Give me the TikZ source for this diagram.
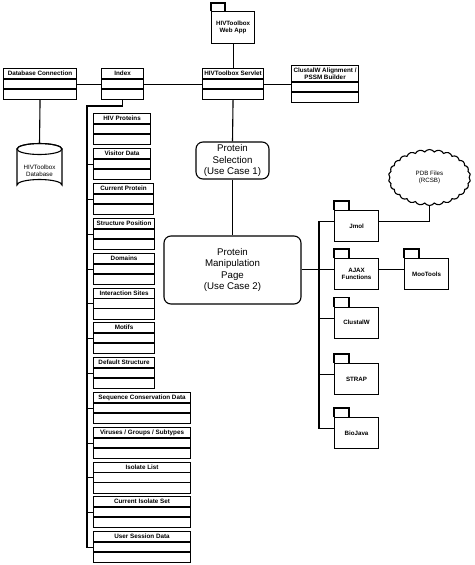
\documentclass[tikz,border=0pt]{standalone}
\usepackage{fontspec}
\setmainfont{Liberation Sans}
\usetikzlibrary{shapes.symbols,calc}
\tikzset{
  ln/.style={line width=1.1pt},
  clsbox/.style={draw, line width=1.1pt, minimum height=31pt, inner sep=0pt, fill=white},
  clstitle/.style={font=\bfseries\fontsize{6.3}{7.4}\selectfont, inner sep=0pt, align=center},
  pkgbody/.style={draw, line width=1.1pt, minimum width=44pt, minimum height=31pt, inner sep=0pt, align=center, font=\bfseries\fontsize{6.2}{7.4}\selectfont},
  rbox/.style={draw, line width=1.1pt, rounded corners=7pt, inner sep=0pt, align=center, font=\fontsize{9.7}{11.5}\selectfont},
  plain/.style={inner sep=0pt, align=center, font=\fontsize{6.2}{7.4}\selectfont},
}
\newcommand{\clsbx}[5]{%
  \node[clsbox, minimum width=#4pt, anchor=north west] (#1) at (#2,#3) {};
  \node[clstitle] (#1-t) at ([yshift=-5.6pt]#1.north) {#5};
  \draw[ln] ([yshift=-11pt]#1.north west) -- ([yshift=-11pt]#1.north east);
  \draw[ln] ([yshift=-21pt]#1.north west) -- ([yshift=-21pt]#1.north east);
}
\newcommand{\pkgbx}[4]{%
  \node[pkgbody, anchor=north west] (#1) at (#2,#3) {#4};
  \draw[ln] (#1.north west) -- ++(0,-9) -- ++(15,0) -- ++(0,9);
}
\begin{document}
\begin{tikzpicture}[x=1pt,y=-1pt]
\useasboundingbox (0,0) rectangle (474,565);
% top package
\node[pkgbody, minimum width=43pt, minimum height=32pt, anchor=north west] (web) at (211,11) {HIVToolbox\\Web App};
\draw[ln] (web.north west) -- ++(0,-8) -- ++(14,0) -- ++(0,8);
% top classes
\clsbx{dbc}{3}{68}{73}{Database Connection}
\clsbx{idx}{101}{68}{42}{Index}
\clsbx{srv}{202}{68}{61}{HIVToolbox Servlet}
% clustal alignment (two-line title)
\node[clsbox, minimum width=67pt, minimum height=37pt, anchor=north west] (cla) at (291,65) {};
\node[clstitle] (cla-t) at ([yshift=-8.5pt]cla.north) {ClustalW Alignment /\\PSSM Builder};
\draw[ln] ([yshift=-17pt]cla.north west) -- ([yshift=-17pt]cla.north east);
\draw[ln] ([yshift=-27pt]cla.north west) -- ([yshift=-27pt]cla.north east);
\draw[ln] (web.south) -- (srv.north);
\draw[ln] (dbc.east) -- (idx.west);
\draw[ln] (idx.east) -- (srv.west);
\draw[ln] (srv.east) -- (cla.west);
% database cylinder
\coordinate (dbtop) at (39.5,143.5);
\draw[ln, fill=white] (17,149) arc[start angle=180, end angle=360, x radius=22.5, y radius=5.5]
  -- (62,185) arc[start angle=0, end angle=180, x radius=22.5, y radius=-5.5] -- cycle;
\draw[ln] (39.5,149) ellipse[x radius=22.5, y radius=5.5];
\node[plain] (db) at (39.5,171) {HIVToolbox\\Database};
\draw[ln] (dbc.south) -- (dbtop);
% list of classes
\clsbx{c1}{93}{113}{57}{HIV Proteins}
\clsbx{c2}{93}{148}{57}{Visitor Data}
\clsbx{c3}{93}{183}{60}{Current Protein}
\clsbx{c4}{93}{218}{61}{Structure Position}
\clsbx{c5}{93}{253}{61}{Domains}
\clsbx{c6}{93}{287.5}{61}{Interaction Sites}
\clsbx{c7}{93}{322}{61}{Motifs}
\clsbx{c8}{93}{357}{61}{Default Structure}
\clsbx{c9}{93}{392}{97}{Sequence Conservation Data}
\clsbx{c10}{93}{427}{97}{Viruses / Groups / Subtypes}
\clsbx{c11}{93}{461.5}{97}{Isolate List}
\clsbx{c12}{93}{496}{97}{Current Isolate Set}
\clsbx{c13}{93}{531}{97}{User Session Data}
\coordinate (bustop) at (87,106);
\draw[ln] (idx.south) |- (bustop) -- (c13.west -| bustop) -- (c13.west);
\foreach \i in {2,...,12} { \draw[ln] (c\i.west -| bustop) -- (c\i.west); }
% use case boxes
\node[rbox, minimum width=73pt, minimum height=37pt] (psel) at (232.5,160.5) {Protein\\Selection\\(Use Case 1)};
\node[rbox, minimum width=137pt, minimum height=68pt] (pman) at (232.5,270) {Protein\\Manipulation\\Page\\(Use Case 2)};
\draw[ln] (srv.south) -- (psel.north);
\draw[ln] (psel.south) -- (pman.north);
% packages
\pkgbx{jmol}{334}{210}{Jmol}
\pkgbx{ajax}{334}{258}{AJAX\\Functions}
\pkgbx{moo}{404}{258}{MooTools}
\pkgbx{clw}{334}{306.5}{ClustalW}
\pkgbx{strap}{334}{363}{STRAP}
\pkgbx{bioj}{334}{417}{BioJava}
\coordinate (rbx) at (319,0);
\draw[ln] ([yshift=4.5pt]jmol.west) -| ([yshift=4.5pt]bioj.west -| rbx) -- ([yshift=4.5pt]bioj.west);
\draw[ln] (pman.east |- ajax.west) ++(0,-4.5) -- ([yshift=4.5pt]ajax.west);
\draw[ln] ([yshift=4.5pt]clw.west -| rbx) -- ([yshift=4.5pt]clw.west);
\draw[ln] ([yshift=4.5pt]strap.west -| rbx) -- ([yshift=4.5pt]strap.west);
\draw[ln] ([yshift=4.5pt]ajax.east) -- ([yshift=4.5pt]moo.west);
% cloud
\node[cloud, draw, line width=1.1pt, cloud puffs=26, cloud puff arc=110, minimum width=82pt, minimum height=56pt, inner sep=0pt, plain] (pdb) at (429.5,177.5) {PDB Files\\(RCSB)};
\draw[ln] ([yshift=4.5pt]jmol.east) -| (pdb.south);
\end{tikzpicture}
\end{document}
